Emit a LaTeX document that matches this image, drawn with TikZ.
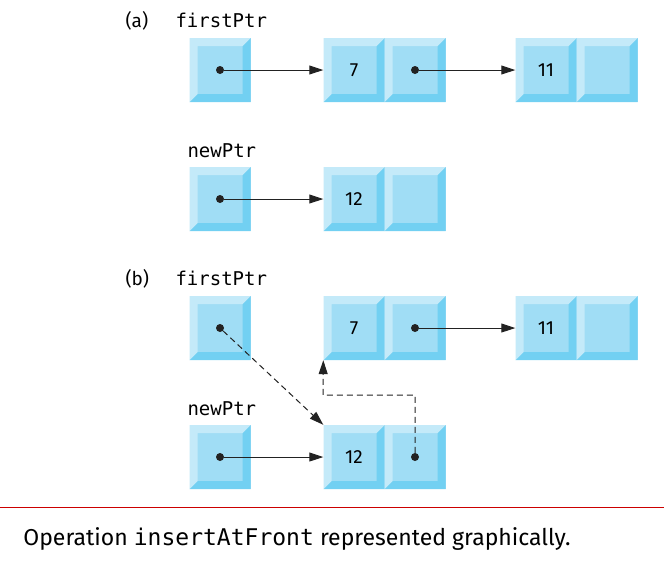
\documentclass[tikz,border=0pt]{standalone}
\usepackage{fontspec}
\setmainfont{Fira Sans}
\setmonofont{DejaVu Sans Mono}
\usetikzlibrary{arrows.meta}
\definecolor{face}{HTML}{A0DDF5}
\definecolor{lite}{HTML}{C4EAF9}
\definecolor{dark}{HTML}{72D0F2}
\definecolor{nul}{HTML}{2E9ED8}
\definecolor{ink}{HTML}{222222}
\begin{document}
\begin{tikzpicture}[x=1pt,y=-1pt,
 cell/.style={draw=none,fill=face,minimum width=61pt,minimum height=64pt,inner sep=0,
  font=\fontsize{19}{19}\selectfont,
  path picture={
   \coordinate (nw) at (path picture bounding box.north west);
   \coordinate (ne) at (path picture bounding box.north east);
   \coordinate (sw) at (path picture bounding box.south west);
   \coordinate (se) at (path picture bounding box.south east);
   \fill[dark] (sw)--(se)--(ne)--([shift={(-8pt,-8pt)}]ne)--([shift={(-8pt,8pt)}]se)--([shift={(8pt,8pt)}]sw)--cycle;
   \fill[lite] (sw)--(nw)--(ne)--([shift={(-8pt,-8pt)}]ne)--([shift={(8pt,-8pt)}]nw)--([shift={(8pt,8pt)}]sw)--cycle;
  }},
 nullc/.style={cell,append after command={\pgfextra{\draw[nul,line width=1.6pt] ([shift={(8pt,-8pt)}]\tikzlastnode.north west)--([shift={(-8pt,8pt)}]\tikzlastnode.south east);}}},
 lab/.style={font=\ttfamily\fontsize{19}{19}\selectfont,anchor=base west},
 arr/.style={ink,line width=1pt,-{Triangle[length=14pt,width=9pt]}},
 dsh/.style={arr,dash pattern=on 6pt off 4pt},
 dot/.style={circle,fill=ink,inner sep=0,minimum size=8pt}]
\useasboundingbox (0,0) rectangle (664,560);
\fill[white] (0,0) rectangle (664,560);
% (a)
\node[anchor=base west,font=\fontsize{19}{19}\selectfont] (la) at (122,27) {(a)};
\node[lab] (fa) at (172,27) {firstPtr};
\node[cell] (pa) at (220,70) {};
\node[cell] (a7) at (354,70) {7};
\node[cell] (a7p) at (415,70) {};
\node[cell] (a11) at (546,70) {11};
\node[nullc] (a11p) at (607,70) {};
\node[lab] (na) at (184,157) {newPtr};
\node[cell] (qa) at (220,199) {};
\node[cell] (a12) at (354,199) {12};
\node[nullc] (a12p) at (415,199) {};
\node[dot] (d1) at (pa) {};
\node[dot] (d2) at (a7p) {};
\node[dot] (d3) at (qa) {};
\draw[arr] (d1) -- (a7.west);
\draw[arr] (d2) -- (a11.west);
\draw[arr] (d3) -- (a12.west);
% (b)
\node[anchor=base west,font=\fontsize{19}{19}\selectfont] (lb) at (122,285) {(b)};
\node[lab] (fb) at (172,285) {firstPtr};
\node[cell] (pb) at (220,328) {};
\node[cell] (b7) at (354,328) {7};
\node[cell] (b7p) at (415,328) {};
\node[cell] (b11) at (546,328) {11};
\node[nullc] (b11p) at (607,328) {};
\node[lab] (nb) at (184,415) {newPtr};
\node[cell] (qb) at (220,457) {};
\node[cell] (b12) at (354,457) {12};
\node[cell] (b12p) at (415,457) {};
\node[dot] (e1) at (pb) {};
\node[dot] (e2) at (b7p) {};
\node[dot] (e3) at (qb) {};
\node[dot] (e4) at (b12p) {};
\draw[arr] (e2) -- (b11.west);
\draw[arr] (e3) -- (b12.west);
\draw[dsh] (e1) -- (b12.north west);
\coordinate (c1) at (415,395);
\coordinate (c2) at (323,395);
\draw[dsh] (e4) -- (c1) -- (c2) -- (b7.south west);
% caption
\draw[red!80!black,line width=0.8pt] (0,507) -- (664,507);
\node[anchor=base,font=\fontsize{23}{23}\selectfont] (cap) at (297,545) {Operation \texttt{insertAtFront} represented graphically.};
\end{tikzpicture}
\end{document}
